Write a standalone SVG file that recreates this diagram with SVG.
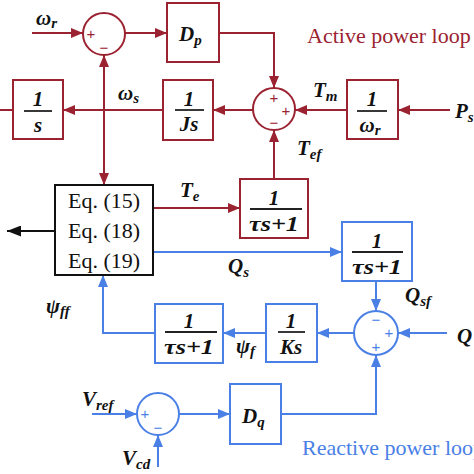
<svg xmlns="http://www.w3.org/2000/svg" width="474" height="474" viewBox="0 0 474 474">
<style>
.r{stroke:#9b2230;fill:none;stroke-width:2}
.b{stroke:#4a80e6;fill:none;stroke-width:2}
.k{stroke:#111;fill:none;stroke-width:2}
.m{font-family:"Liberation Serif",serif;font-weight:bold;font-style:italic;font-size:21px;fill:#111}
.f{font-family:"Liberation Serif",serif;font-weight:bold;font-style:italic;font-size:21px;fill:#111;text-anchor:middle}
.eq{font-family:"Liberation Serif",serif;font-size:22px;fill:#111;text-anchor:middle}
.sr{font-family:"Liberation Sans",sans-serif;font-size:15px;fill:#9b2230;text-anchor:middle}
.sb{font-family:"Liberation Sans",sans-serif;font-size:15px;fill:#4a80e6;text-anchor:middle}
.fl{stroke:#222;stroke-width:1.8}
.sub{font-size:15px}
</style>
<defs>
<marker id="ar" markerUnits="userSpaceOnUse" markerWidth="12" markerHeight="10" refX="12" refY="5" orient="auto"><path d="M0,0 L12,5 L0,10 z" fill="#9b2230"/></marker>
<marker id="ab" markerUnits="userSpaceOnUse" markerWidth="12" markerHeight="10" refX="12" refY="5" orient="auto"><path d="M0,0 L12,5 L0,10 z" fill="#4a80e6"/></marker>
<marker id="ak" markerUnits="userSpaceOnUse" markerWidth="14" markerHeight="11" refX="14" refY="5.5" orient="auto"><path d="M0,0 L14,5.5 L0,11 z" fill="#111"/></marker>
</defs>
<rect width="474" height="474" fill="#fff"/>

<g id="connectors">
<path class="r" d="M32,33 H83" marker-end="url(#ar)"/>
<path class="r" d="M125,33 H167" marker-end="url(#ar)"/>
<path class="r" d="M219,33 H274 V88" marker-end="url(#ar)"/>
<path class="r" d="M450,110 H398" marker-end="url(#ar)"/>
<path class="r" d="M347,110 H295" marker-end="url(#ar)"/>
<path class="r" d="M253,110 H213" marker-end="url(#ar)"/>
<path class="r" d="M163,110 H63" marker-end="url(#ar)"/>
<path class="r" d="M0,110 H13"/>
<path class="r" d="M104,110 V55" marker-end="url(#ar)"/>
<path class="r" d="M104,110 V185" marker-end="url(#ar)"/>
<path class="r" d="M153,208 H240" marker-end="url(#ar)"/>
<path class="r" d="M274,179 V130" marker-end="url(#ar)"/>
<path class="b" d="M153,252 H342" marker-end="url(#ab)"/>
<path class="b" d="M376,281 V311" marker-end="url(#ab)"/>
<path class="b" d="M447,333 H398" marker-end="url(#ab)"/>
<path class="b" d="M354,333 H317" marker-end="url(#ab)"/>
<path class="b" d="M266,333 H223" marker-end="url(#ab)"/>
<path class="b" d="M155,333 H103 V275" marker-end="url(#ab)"/>
<path class="b" d="M92,414 H137" marker-end="url(#ab)"/>
<path class="b" d="M158,467 V435" marker-end="url(#ab)"/>
<path class="b" d="M179,414 H230" marker-end="url(#ab)"/>
<path class="b" d="M281,414 H376 V355" marker-end="url(#ab)"/>
<path class="k" d="M55,231 H7" marker-end="url(#ak)"/>
</g>

<g id="sum1">
<circle class="r" cx="104" cy="34" r="21"/>
<text class="sr" x="91" y="39">+</text>
<text class="sr" x="104" y="53">−</text>
</g>
<g id="Dp">
<rect class="r" x="167" y="3" width="52" height="59"/>
<text class="m" x="179" y="41">D<tspan class="sub" dy="4">p</tspan></text>
</g>
<g id="sum2">
<circle class="r" cx="274" cy="109" r="21"/>
<text class="sr" x="274" y="103">+</text>
<text class="sr" x="286" y="116">+</text>
<text class="sr" x="274" y="128">−</text>
</g>
<g id="inv_wr">
<rect class="r" x="347" y="80" width="51" height="59"/>
<text class="f" x="372" y="106">1</text>
<line class="fl" x1="357" y1="111" x2="387" y2="111"/>
<text class="f" x="370" y="132">ω<tspan class="sub" dy="3">r</tspan></text>
</g>
<g id="inv_Js">
<rect class="r" x="163" y="80" width="50" height="60"/>
<text class="f" x="189" y="106">1</text>
<line class="fl" x1="175" y1="110" x2="204" y2="110"/>
<text class="f" x="189" y="131">Js</text>
</g>
<g id="inv_s">
<rect class="r" x="13" y="80" width="50" height="59"/>
<text class="f" x="38" y="106">1</text>
<line class="fl" x1="24" y1="111" x2="52" y2="111"/>
<text class="f" x="38" y="132">s</text>
</g>
<g id="lpf_red">
<rect class="r" x="240" y="179" width="68" height="59"/>
<text class="f" x="274" y="205">1</text>
<line class="fl" x1="250" y1="209" x2="302" y2="209"/>
<text class="f" x="274" y="231" textLength="50" lengthAdjust="spacingAndGlyphs">τs+1</text>
</g>
<g id="eq">
<rect class="k" x="55" y="185" width="98" height="90" style="fill:#fff"/>
<text class="eq" x="104" y="208">Eq. (15)</text>
<text class="eq" x="104" y="238">Eq. (18)</text>
<text class="eq" x="104" y="268">Eq. (19)</text>
</g>
<g id="lpf_blue_q">
<rect class="b" x="342" y="222" width="70" height="59"/>
<text class="f" x="377" y="248">1</text>
<line class="fl" x1="352" y1="252" x2="403" y2="252"/>
<text class="f" x="377" y="274" textLength="50" lengthAdjust="spacingAndGlyphs">τs+1</text>
</g>
<g id="sum3">
<circle class="b" cx="376" cy="333" r="22"/>
<text class="sb" x="376" y="325">−</text>
<text class="sb" x="389" y="338">+</text>
<text class="sb" x="376" y="352">+</text>
</g>
<g id="inv_Ks">
<rect class="b" x="266" y="304" width="51" height="58"/>
<text class="f" x="291" y="328">1</text>
<line class="fl" x1="278" y1="332" x2="305" y2="332"/>
<text class="f" x="291" y="354">Ks</text>
</g>
<g id="lpf_blue_psi">
<rect class="b" x="155" y="304" width="68" height="59"/>
<text class="f" x="189" y="328">1</text>
<line class="fl" x1="165" y1="332" x2="217" y2="332"/>
<text class="f" x="189" y="354" textLength="50" lengthAdjust="spacingAndGlyphs">τs+1</text>
</g>
<g id="sum4">
<circle class="b" cx="158" cy="414" r="21"/>
<text class="sb" x="145" y="419">+</text>
<text class="sb" x="158" y="433">−</text>
</g>
<g id="Dq">
<rect class="b" x="230" y="384" width="51" height="60"/>
<text class="m" x="242" y="423">D<tspan class="sub" dy="4">q</tspan></text>
</g>

<g id="labels">
<text class="m" x="36" y="25">ω<tspan class="sub" dy="3">r</tspan></text>
<text class="m" x="118" y="100">ω<tspan class="sub" dy="3">s</tspan></text>
<text class="m" x="313" y="97">T<tspan class="sub" dy="4">m</tspan></text>
<text class="m" x="455" y="118">P<tspan class="sub" dy="4">s</tspan></text>
<text class="m" x="297" y="155">T<tspan class="sub" dy="4">ef</tspan></text>
<text class="m" x="180" y="197">T<tspan class="sub" dy="4">e</tspan></text>
<text class="m" x="228" y="273">Q<tspan class="sub" dy="4">s</tspan></text>
<text class="m" x="405" y="302">Q<tspan class="sub" dy="4">sf</tspan></text>
<text class="m" x="457" y="343">Q</text>
<text class="m" x="236" y="353">ψ<tspan class="sub" dy="3">f</tspan></text>
<text class="m" x="46" y="313">ψ<tspan class="sub" dy="3">ff</tspan></text>
<text class="m" x="82" y="406">V<tspan class="sub" dy="4">ref</tspan></text>
<text class="m" x="122" y="465">V<tspan class="sub" dy="4">cd</tspan></text>
<text x="307" y="43" style="font-family:'Liberation Serif',serif;font-size:22px;fill:#9b2230">Active power loop</text>
<text x="302" y="455" style="font-family:'Liberation Serif',serif;font-size:22px;fill:#4a80e6">Reactive power loop</text>
</g>
</svg>
